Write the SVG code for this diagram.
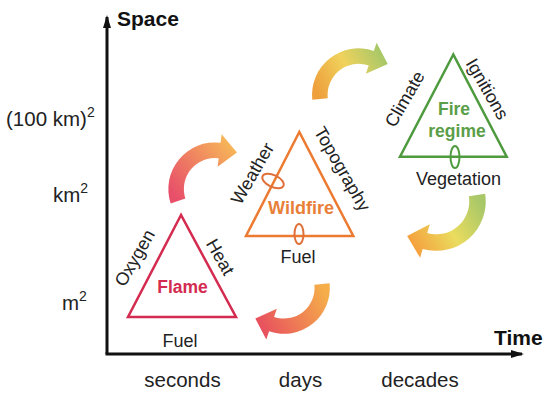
<svg xmlns="http://www.w3.org/2000/svg" xmlns:xlink="http://www.w3.org/1999/xlink" width="550" height="398" viewBox="0 0 550 398">
<style>
text{font-family:"Liberation Sans",Arial,sans-serif;fill:#222}
.ax{font-size:20.5px}
.axb{font-size:21px;font-weight:bold;fill:#111}
.sup{font-size:14px}
.lbl{font-size:18px}
.tri{fill:none;stroke-width:2.5;stroke-linejoin:miter}
.ring{fill:none;stroke-width:2}
.title{font-weight:bold;font-size:17.5px;text-anchor:middle}
</style>
<defs>
<marker id="ah" viewBox="0 0 13 8" refX="11" refY="4" markerWidth="13" markerHeight="8" markerUnits="userSpaceOnUse" orient="auto">
<path d="M0,0 L13,4 L0,8 Z" fill="#111"/>
</marker>
<path id="carrow" d="M -46.36,12.42 A 48 48 0 0 1 8.33,-47.27 L 9.90,-56.13 L 24.67,-36.27 L 3.99,-22.65 L 5.56,-31.51 A 32 32 0 0 0 -30.91,8.28 Z"/>
<linearGradient id="g1" gradientUnits="userSpaceOnUse" x1="-38" y1="10" x2="24" y2="-36">
<stop offset="0" stop-color="#e8506a"/><stop offset="1" stop-color="#f6b458"/>
</linearGradient>
<linearGradient id="g2" gradientUnits="userSpaceOnUse" x1="-38" y1="10" x2="24" y2="-36">
<stop offset="0" stop-color="#eea03c"/><stop offset="0.5" stop-color="#f0d25c"/><stop offset="1" stop-color="#a8c868"/>
</linearGradient>
<linearGradient id="g3" gradientUnits="userSpaceOnUse" x1="-38" y1="10" x2="24" y2="-36">
<stop offset="0" stop-color="#a8c868"/><stop offset="0.5" stop-color="#eadc5e"/><stop offset="1" stop-color="#f5a23e"/>
</linearGradient>
<linearGradient id="g4" gradientUnits="userSpaceOnUse" x1="-38" y1="10" x2="24" y2="-36">
<stop offset="0" stop-color="#f5ae4a"/><stop offset="1" stop-color="#e8505e"/>
</linearGradient>
</defs>
<rect width="550" height="398" fill="#fff"/>

<g id="axes">
<path d="M107,354 L107,17" stroke="#111" stroke-width="3" fill="none" marker-end="url(#ah)"/>
<path d="M105.5,354 L522,354" stroke="#111" stroke-width="3" fill="none" marker-end="url(#ah)"/>
<text class="axb" x="117" y="26">Space</text>
<text class="axb" x="494" y="345">Time</text>
<text class="ax" x="6" y="126">(100 km)<tspan class="sup" dy="-9">2</tspan></text>
<text class="ax" x="53" y="202">km<tspan class="sup" dy="-9">2</tspan></text>
<text class="ax" x="62" y="310">m<tspan class="sup" dy="-9">2</tspan></text>
<text class="ax" x="182.5" y="387" text-anchor="middle">seconds</text>
<text class="ax" x="300.5" y="387" text-anchor="middle">days</text>
<text class="ax" x="420" y="387" text-anchor="middle">decades</text>
</g>

<g id="connectors">
<use xlink:href="#carrow" href="#carrow" fill="url(#g1)" transform="translate(214.9,189) rotate(-3) scale(0.97)"/>
<use xlink:href="#carrow" href="#carrow" fill="url(#g2)" transform="translate(358.6,94.9) rotate(9) scale(0.97)"/>
<use xlink:href="#carrow" href="#carrow" fill="url(#g3)" transform="translate(436.3,201.4) rotate(186) scale(1.03)"/>
<use xlink:href="#carrow" href="#carrow" fill="url(#g4)" transform="translate(284,288) rotate(189) scale(0.955)"/>
</g>

<g id="flame">
<polygon class="tri" points="181,215 128,317 236,317" stroke="#d42b50"/>
<text class="title" x="182.5" y="293" style="fill:#d42b50">Flame</text>
<text class="lbl" x="140" y="261" text-anchor="middle" transform="rotate(-60 140 261)">Oxygen</text>
<text class="lbl" x="215" y="260" text-anchor="middle" transform="rotate(60 215 260)">Heat</text>
<text class="lbl" x="180" y="347" text-anchor="middle">Fuel</text>
</g>

<g id="wildfire">
<polygon class="tri" points="299.3,132 246,236 353.3,236" stroke="#ec7a30"/>
<ellipse class="ring" cx="273" cy="181" rx="11.5" ry="6" transform="rotate(25 273 181)" stroke="#e0703a"/>
<ellipse class="ring" cx="299" cy="234" rx="4.5" ry="10" stroke="#e0703a"/>
<text class="title" x="301" y="214" style="fill:#e8803a;font-size:18px">Wildfire</text>
<text class="lbl" x="257.7" y="176.5" text-anchor="middle" transform="rotate(-60 257.7 176.5)">Weather</text>
<text class="lbl" x="337" y="172" text-anchor="middle" transform="rotate(60 337 172)">Topography</text>
<text class="lbl" x="298" y="263" text-anchor="middle">Fuel</text>
</g>

<g id="fire-regime">
<polygon class="tri" points="453.3,54.5 400,156.7 506.7,156.7" stroke="#4e9a3e"/>
<ellipse class="ring" cx="455" cy="157" rx="4.5" ry="11" stroke="#4e9a3e"/>
<text class="title" x="454" y="115" style="fill:#5a9e48">Fire</text>
<text class="title" x="457" y="137" style="fill:#5a9e48">regime</text>
<text class="lbl" x="410" y="102" text-anchor="middle" transform="rotate(-60 410 102)">Climate</text>
<text class="lbl" x="482" y="92" text-anchor="middle" transform="rotate(60 482 92)">Ignitions</text>
<text class="lbl" x="458.5" y="185" text-anchor="middle">Vegetation</text>
</g>
</svg>
